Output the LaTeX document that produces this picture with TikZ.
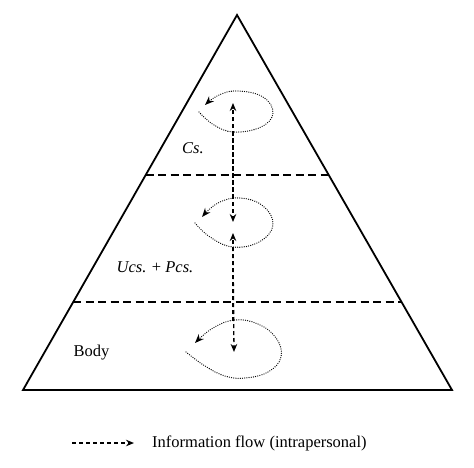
\documentclass[tikz,border=0pt]{standalone}
\usepackage{fontspec}
\setmainfont{Liberation Serif}
\usetikzlibrary{arrows.meta,calc}
\begin{document}
\begin{tikzpicture}[x=1pt,y=-1pt,
  edge/.style={line width=1.8pt,line join=miter},
  level/.style={line width=1.8pt,dash pattern=on 8pt off 4.5pt},
  flow/.style={line width=1.3pt,dash pattern=on 4pt off 3pt,-{Stealth[length=8pt,width=6.5pt]}},
  loop/.style={line width=1.3pt,line cap=round,dash pattern=on 0pt off 2.2pt,-{Stealth[length=9pt,width=7pt]}},
  lbl/.style={font=\fontsize{16.5pt}{19pt}\selectfont,inner sep=0pt}]
\useasboundingbox (0,0) rectangle (474,467);
\coordinate (apex) at (237,15);
\coordinate (bl) at (23,390);
\coordinate (br) at (452,390);
\draw[edge] (apex) -- (bl) -- (br) -- cycle;
% level lines
\coordinate (l1a) at ($(apex)!0.4267!(bl)$);
\coordinate (l1b) at ($(apex)!0.4267!(br)$);
\coordinate (l2a) at ($(apex)!0.7653!(bl)$);
\coordinate (l2b) at ($(apex)!0.7653!(br)$);
\draw[level] (l1a) -- (l1b);
\draw[level] (l2a) -- (l2b);
% loops
\draw[loop] plot[smooth,tension=0.7] coordinates {(199,112) (214,125) (234,132) (261,127) (273,113) (263,97) (238,91) (219,95) (205,105)};
\draw[loop] plot[smooth,tension=0.7] coordinates {(195,223) (210,237) (233,247) (259,242) (273,225) (263,206) (240,198) (218,203) (202,217)};
\draw[loop] plot[smooth,tension=0.7] coordinates {(186,352) (205,366) (225,376) (245,378) (268,372) (281,357) (276,338) (258,324) (235,320) (213,328) (195,343)};
% vertical flows
\coordinate (t1) at (233,103);
\coordinate (s1) at (233,198);
\coordinate (s2) at (233,132);
\coordinate (t2) at (233,222);
\coordinate (t3) at (233,233);
\coordinate (s3) at (233,321);
\coordinate (s4) at (233,247);
\coordinate (t4) at (234,352);
\draw[flow] (s1) -- (t1);
\draw[flow] (s2) -- (t2);
\draw[flow] (s3) -- (t3);
\draw[flow] (s4) -- (t4);
% labels
\node[lbl] (cs) at (193,148) {\itshape Cs.};
\node[lbl] (ucs) at (155,267) {{\itshape Ucs.} + {\itshape Pcs.}};
\node[lbl] (body) at (91.5,353) {Body};
% legend
\coordinate (la) at (72,443);
\coordinate (lb) at (134,443);
\draw[flow,line width=1.5pt] (la) -- (lb);
\node[lbl,anchor=west] (legend) at (152,443) {Information flow (intrapersonal)};
\end{tikzpicture}
\end{document}
